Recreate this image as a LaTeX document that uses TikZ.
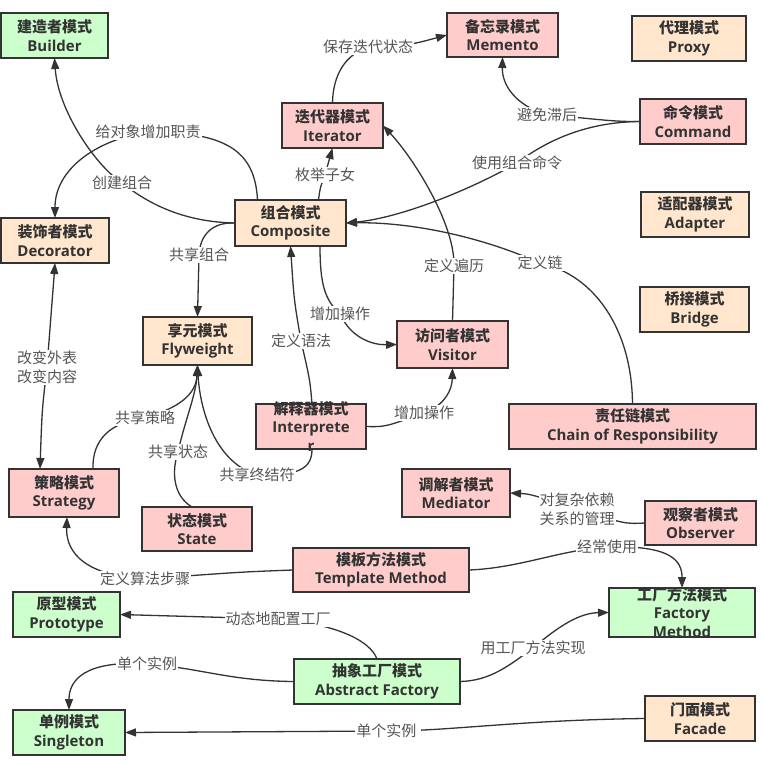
\documentclass[tikz,border=0pt]{standalone}
\usepackage{fontspec}
\setmainfont{Open Sans}
\newfontfamily\cjk{Noto Sans CJK SC}
\usetikzlibrary{arrows.meta,backgrounds}
\definecolor{linec}{HTML}{333333}
\definecolor{lblc}{HTML}{555555}
\definecolor{greenc}{HTML}{CCFFCC}
\definecolor{peachc}{HTML}{FFE6CC}
\definecolor{pinkc}{HTML}{FFCCCC}
\tikzset{
    box/.style={draw=linec,line width=1.4pt,inner sep=0pt,outer sep=0pt},
    boxtxt/.style={align=center,text=linec,inner sep=0pt,font=\fontsize{15}{18.5}\selectfont\bfseries},
    lbl/.style={fill=white,text=lblc,inner sep=1pt,align=center,font={\cjk\fontsize{15}{19}\selectfont}},
    link/.style={draw=linec,line width=1.3pt,->},
    >={Triangle[length=11pt,width=8pt]}
}
\begin{document}
\begin{tikzpicture}[x=1pt,y=-1pt]
                \useasboundingbox (0,0) rectangle (762,762);
                \foreach \name/\x/\y/\w/\h/\fc/\zh/\en in {
                    builder/54.5/35.5/107/45/greenc/建造者模式/Builder,
                    memento/502.5/35/111/44/pinkc/备忘录模式/Memento,
                    proxy/689/38.5/114/45/peachc/代理模式/Proxy,
                    iterator/332.5/125.5/101/45/pinkc/迭代器模式/Iterator,
                    command/693/121.5/106/45/pinkc/命令模式/Command,
                    composite/290.5/223/111/46/peachc/组合模式/Composite,
                    decorator/55/240.5/108/45/peachc/装饰者模式/Decorator,
                    adapter/695/214.5/108/45/peachc/适配器模式/Adapter,
                    bridge/694.5/309.5/109/45/peachc/桥接模式/Bridge,
                    flyweight/197.5/341/109/48/peachc/享元模式/Flyweight,
                    visitor/452.5/344.5/111/47/pinkc/访问者模式/Visitor,
                    interp/311/426.5/110/45/pinkc/解释器模式/{Interprete\\r},
                    chain/632.5/426.5/247/45/pinkc/责任链模式/Chain of Responsibility,
                    strategy/64/493/110/48/pinkc/策略模式/Strategy,
                    state/197/529/110/44/pinkc/状态模式/State,
                    mediator/456/493/108/48/pinkc/调解者模式/Mediator,
                    observer/700.5/523/111/44/pinkc/观察者模式/Observer,
                    template/381/570/176/44/pinkc/模板方法模式/Template Method,
                    prototype/66.5/614.5/107/45/greenc/原型模式/Prototype,
                    factory/682/612.5/146/49/greenc/工厂方法模式/{Factory\\Method},
                    af/377/681.5/166/45/greenc/抽象工厂模式/Abstract Factory,
                    singleton/69/732.5/112/45/greenc/单例模式/Singleton,
                    facade/700/718.5/110/45/peachc/门面模式/Facade
                }
                \node[box,fill=\fc,minimum width=\w pt,minimum height=\h pt,
                    label={[boxtxt]center:{\cjk\zh}\\\en}](\name) at(\x,\y){};
                \foreach \name/\x/\y/\t in {
                    lCreate/122/183/创建组合,
                    lAddDuty/148/132/给对象增加职责,
                    lShareComp/199/255/共享组合,
                    lEnum/325/175/枚举子女,
                    lSave/368/47/保存迭代状态,
                    lAvoid/547/115/避免滞后,
                    lUseCmd/517/163/使用组合命令,
                    lChain/540/263/定义链,
                    lTraverse/454/266/定义遍历,
                    lAddOpA/340/314/增加操作,
                    lGrammar/301/341/定义语法,
                    lAddOpB/424/413/增加操作,
                    lTerm/257/475/共享终结符,
                    lState/178/452/共享状态,
                    lStrat/145/418/共享策略,
                    lChange/47/367/{改变外表\\改变内容},
                    lSteps/145/579/定义算法步骤,
                    lDepend/577/509/{对复杂依赖\\关系的管理},
                    lOften/607/547/经常使用,
                    lImpl/533/648/用工厂方法实现,
                    lDyn/278/619/动态地配置工厂,
                    lSingleA/147/664/单个实例,
                    lSingleB/388/731/单个实例
                }
                \node[lbl](\name) at(\x,\y){\t};
                \begin{scope}[on background layer]
                \draw[link] (composite.west) .. controls (185,222) and (150,205) .. (lCreate.center)
                    .. controls (95,165) and (58,110) .. (builder.south);
                \draw[link] ([xshift=-33pt]composite.north) .. controls (255,150) and (225,132) .. (lAddDuty.center)
                    .. controls (95,140) and (55,170) .. (decorator.north);
                \draw[link] (composite.west) .. controls (212,222) and (200,235) .. (lShareComp.center) -- (flyweight.north);
                \draw[link] ([xshift=28pt]composite.north) .. controls (320,188) .. (lEnum.center) -- (iterator.south);
                \draw[link] (iterator.north) .. controls (333,75) and (345,55) .. (lSave.center)
                    .. controls (410,45) .. (memento.west);
                \draw[link] (command.west) .. controls (610,122) and (590,118) .. (lAvoid.center)
                    .. controls (515,105) and (502,85) .. (memento.south);
                \draw[link] (command.west) .. controls (590,122) and (550,138) .. (lUseCmd.center)
                    .. controls (470,190) and (400,218) .. (composite.east);
                \draw[link] (chain.north) .. controls (632,330) and (595,275) .. (lChain.center)
                    .. controls (470,232) and (400,222) .. (composite.east);
                \draw[link] (visitor.north) -- (lTraverse.center) .. controls (455,225) and (415,160) .. (iterator.east);
                \draw[link] ([xshift=29.5pt]composite.south) .. controls (320,285) and (325,300) .. (lAddOpA.center)
                    .. controls (352,340) and (375,345) .. (visitor.west);
                \draw[link] ([xshift=1pt]interp.north) .. controls (310,380) .. (lGrammar.center)
                    .. controls (294,300) .. (composite.south);
                \draw[link] (interp.east) .. controls (385,427) .. (lAddOpB.center)
                    .. controls (445,405) and (452,390) .. (visitor.south);
                \draw[link] ([xshift=1pt]interp.south) .. controls (312,468) and (300,476) .. (lTerm.center)
                    .. controls (215,462) and (200,410) .. (flyweight.south);
                \draw[link] ([xshift=-5pt]state.north) .. controls (172,495) and (172,470) .. (lState.center)
                    .. controls (185,420) and (196,395) .. (flyweight.south);
                \draw[link] ([xshift=29pt]strategy.north) .. controls (92,440) and (110,422) .. (lStrat.center)
                    .. controls (178,408) and (196,395) .. (flyweight.south);
                \draw[link,<->] (decorator.south) .. controls (51,320) .. (lChange.center)
                    .. controls (42,410) .. ([xshift=-24pt]strategy.north);
                \draw[link] (template.west) .. controls (240,572) .. (lSteps.center)
                    .. controls (75,575) and (66,545) .. ([xshift=3pt]strategy.south);
                \draw[link] (observer.west) .. controls (625,524) .. (lDepend.center)
                    .. controls (530,494) .. (mediator.east);
                \draw[link] (template.east) .. controls (520,568) and (560,550) .. (lOften.center)
                    .. controls (670,545) and (682,560) .. (factory.north);
                \draw[link] (af.east) .. controls (490,681) and (510,665) .. (lImpl.center)
                    .. controls (560,625) and (580,613) .. (factory.west);
                \draw[link] (af.north) .. controls (370,640) and (335,624) .. (lDyn.center) -- (prototype.east);
                \draw[link] (af.west) .. controls (230,681) and (200,668) .. (lSingleA.center)
                    .. controls (85,660) and (69,680) .. (singleton.north);
                \draw[link] (facade.west) .. controls (520,720) and (450,731) .. (lSingleB.center) -- (singleton.east);
                \end{scope}
            \end{tikzpicture}
\end{document}
